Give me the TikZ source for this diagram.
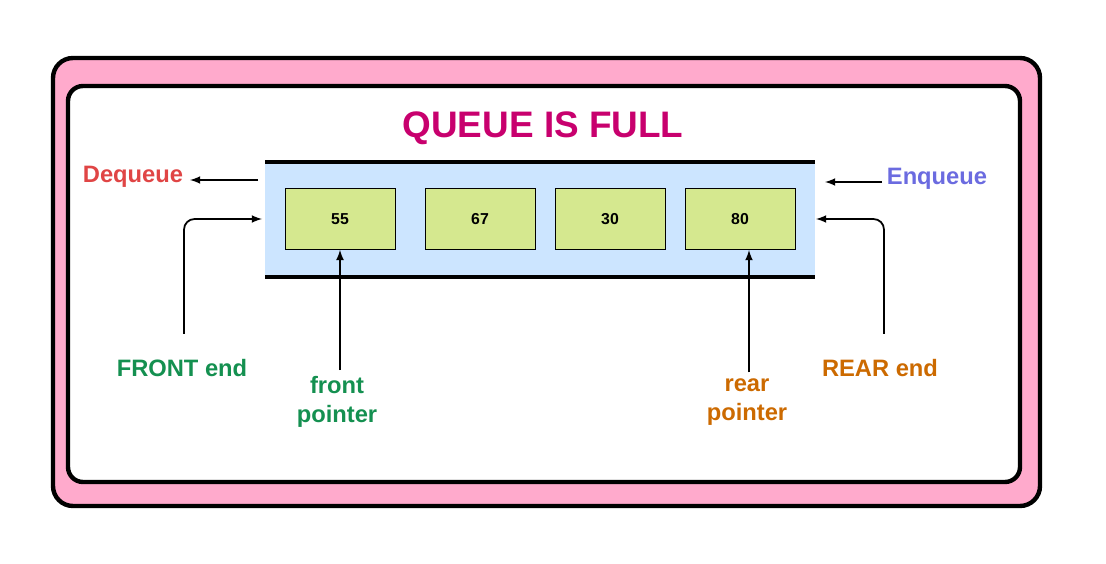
\documentclass[tikz,border=0pt]{standalone}
\usepackage{fontspec}
\setmainfont{Liberation Sans}
\usetikzlibrary{calc, arrows}
\definecolor{framepink}{HTML}{FFAACC}
\definecolor{bandblue}{HTML}{CCE5FF}
\definecolor{cellgreen}{HTML}{D5E88F}
\definecolor{titlered}{HTML}{C8006E}
\definecolor{deqred}{HTML}{E04545}
\definecolor{enqblue}{HTML}{6B6BE0}
\definecolor{frontgreen}{HTML}{149050}
\definecolor{rearorange}{HTML}{CC6A00}
\tikzset{
  cell/.style = {draw=black, fill=cellgreen, minimum width=2.2cm,
    minimum height=1.22cm, inner sep=0pt, font=\fontsize{9}{10}\selectfont\bfseries},
  lbl/.style = {align=center, inner sep=0pt, font=\fontsize{13.5}{16.5}\selectfont\bfseries},
  ptr/.style = {->, >=latex, line width=1pt}
}
\begin{document}
\begin{tikzpicture}[x=0.02cm, y=-0.02cm]
\useasboundingbox (0,0) rectangle (1106,564);
% frames
\draw[line width=2.5pt, fill=framepink, rounded corners=0.4cm] (53,58) rectangle (1040,506);
\draw[line width=2.5pt, fill=white, rounded corners=0.3cm] (68,86) rectangle (1020,482);
\node[titlered, font=\fontsize{21}{24}\selectfont\bfseries] (title) at (543,128) {QUEUE IS FULL};
% queue band
\fill[bandblue] (265,162) rectangle (815,277);
\draw[line width=2.5pt] (265,162) -- (815,162);
\draw[line width=2.5pt] (265,277) -- (815,277);
\node[cell] (c1) at (340,219) {55};
\node[cell] (c2) at (480,219) {67};
\node[cell] (c3) at (610,219) {30};
\node[cell] (c4) at (740,219) {80};
% labels
\node[lbl, deqred] (deq) at (133,177) {Dequeue};
\node[lbl, enqblue] (enq) at (937,179) {Enqueue};
\node[lbl, frontgreen] (fend) at (182,368) {FRONT end};
\node[lbl, rearorange] (rend) at (880,368) {REAR end};
\node[lbl, frontgreen] (fptr) at (337,402) {front\\pointer};
\node[lbl, rearorange] (rptr) at (747,402) {rear\\pointer};
\coordinate (deqs) at (258,180);
\coordinate (deqe) at (190,180);
\coordinate (enqs) at (882,182);
\coordinate (enqe) at (825,182);
\coordinate (fin) at (262,219);
\coordinate (rin) at (816,219);
\coordinate (rtip) at (749,250);
% arrows
\draw[ptr] (deqs) -- (deqe);
\draw[ptr] (enqs) -- (enqe);
\draw[ptr, rounded corners=6pt] ($(fend.north)+(2,-25)$) |- (fin);
\draw[ptr, rounded corners=6pt] ($(rend.north)+(4,-25)$) |- (rin);
\draw[ptr] ($(fptr.north)+(3,-6)$) -- (c1.south);
\draw[ptr] ($(rptr.north)+(2,-6)$) -- (rtip);
\end{tikzpicture}
\end{document}
